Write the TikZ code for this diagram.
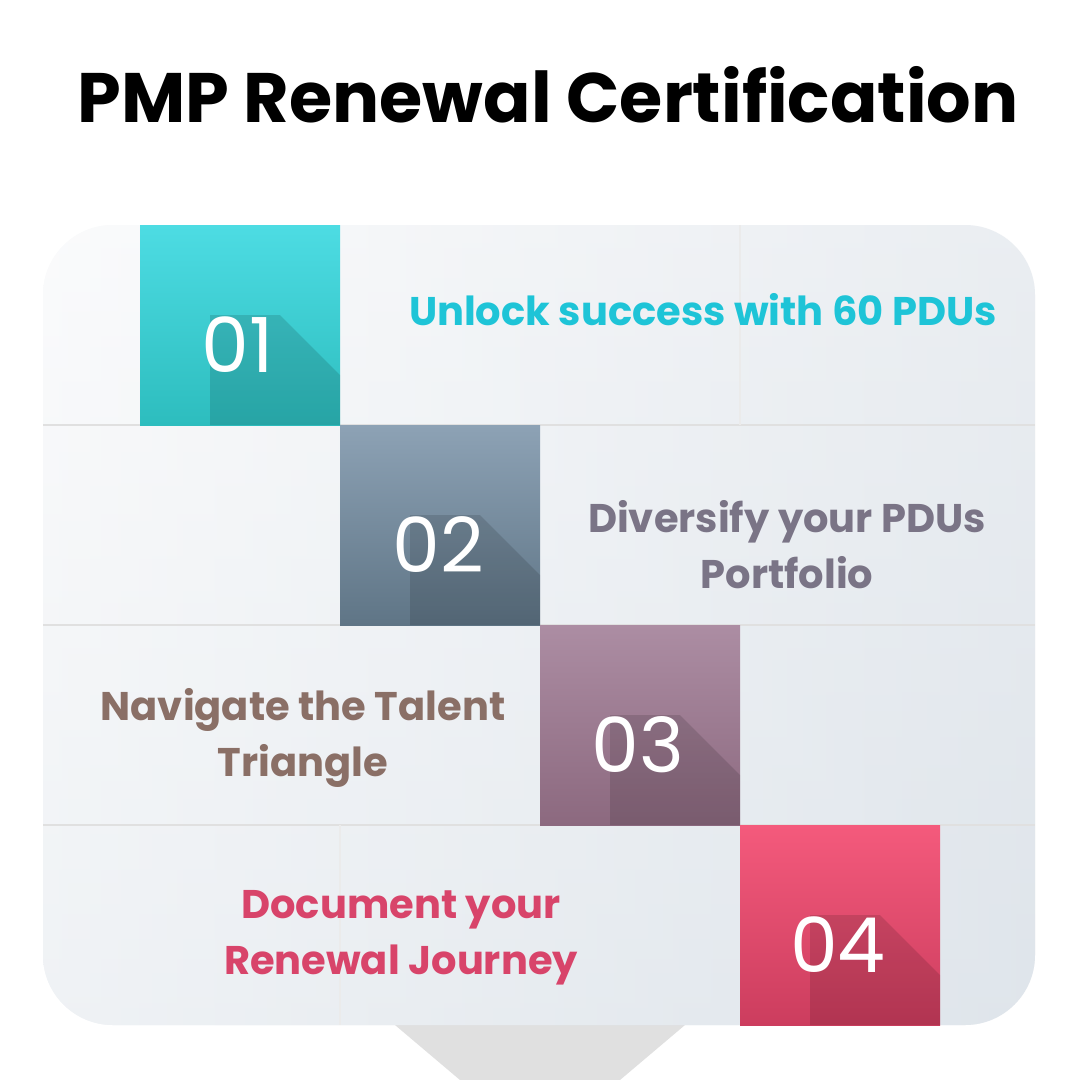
\documentclass[tikz,border=0pt]{standalone}
\usepackage{fontspec}
\setmainfont{Poppins}
\usetikzlibrary{fadings}
\definecolor{tealA}{HTML}{4DDCE3}\definecolor{tealB}{HTML}{2DBDBE}
\definecolor{greyA}{HTML}{8DA2B5}\definecolor{greyB}{HTML}{5F7586}
\definecolor{mauA}{HTML}{AC8DA3}\definecolor{mauB}{HTML}{8C697F}
\definecolor{pinkA}{HTML}{F45A7C}\definecolor{pinkB}{HTML}{CC3D5E}
\definecolor{t1}{HTML}{1EC4D7}\definecolor{t2}{HTML}{7A7486}
\definecolor{t3}{HTML}{8A6F66}\definecolor{t4}{HTML}{D8446A}
\definecolor{panA}{HTML}{F6F7F9}\definecolor{panB}{HTML}{DFE5EB}
\tikzset{
 num/.style={text=white,font=\fontsize{76}{80}\selectfont,inner sep=0pt},
 lbl/.style={font=\bfseries\fontsize{40}{56}\selectfont,align=center,inner sep=0pt},
 sq/.style={draw=none},
 sep/.style={draw=black!12,line width=2pt}
}
\begin{document}
\begin{tikzpicture}[x=1pt,y=-1pt]
\useasboundingbox (0,0) rectangle (1080,1080);
\fill[white] (0,0) rectangle (1080,1080);
\node[font=\bfseries\fontsize{70}{80}\selectfont,inner sep=0pt] (title) at (548,95) {PMP Renewal Certification};
% bottom tab
\fill[black!12] (395,1025) -- (685,1025) -- (620,1080) -- (460,1080) -- cycle;
% panel
\shade[top color=panA,bottom color=panB,shading angle=0,rounded corners=70] (43,225) rectangle (1035,1025);
\shade[left color=white,right color=panB,opacity=0.5,rounded corners=70] (43,225) rectangle (1035,1025);
\foreach \y in {425,625,825} \draw[sep] (43,\y) -- (1035,\y);
\draw[black!8,line width=1.5pt] (740,225) -- (740,425);
\draw[black!8,line width=1.5pt] (340,825) -- (340,1025);
% squares
\shade[sq,top color=tealA,bottom color=tealB] (140,225) rectangle (340,425);
\shade[sq,top color=greyA,bottom color=greyB] (340,425) rectangle (540,625);
\shade[sq,top color=mauA,bottom color=mauB] (540,625) rectangle (740,825);
\shade[sq,top color=pinkA,bottom color=pinkB] (740,825) rectangle (940,1025);
% long shadows
\foreach \x/\y in {240/345,440/545,640/745,840/945}
  \fill[black,opacity=0.13] (\x-30,\y-30) -- (\x+40,\y-30) -- (\x+100,\y+30) -- (\x+100,\y+80) -- (\x-30,\y+80) -- cycle;
\shade[sq,top color=tealA,bottom color=tealB,opacity=0] (140,225) rectangle (340,425);
\node[num] (n1) at (238,345) {01};
\node[num] (n2) at (438,545) {02};
\node[num] (n3) at (638,745) {03};
\node[num] (n4) at (838,945) {04};
\node[lbl,text=t1] (l1) at (703,310) {Unlock success with 60 PDUs};
\node[lbl,text=t2] (l2) at (787,545) {Diversify your PDUs\\Portfolio};
\node[lbl,text=t3] (l3) at (303,738) {Navigate the Talent\\Triangle};
\node[lbl,text=t4] (l4) at (401,938) {Document your\\Renewal Journey};
\end{tikzpicture}
\end{document}
